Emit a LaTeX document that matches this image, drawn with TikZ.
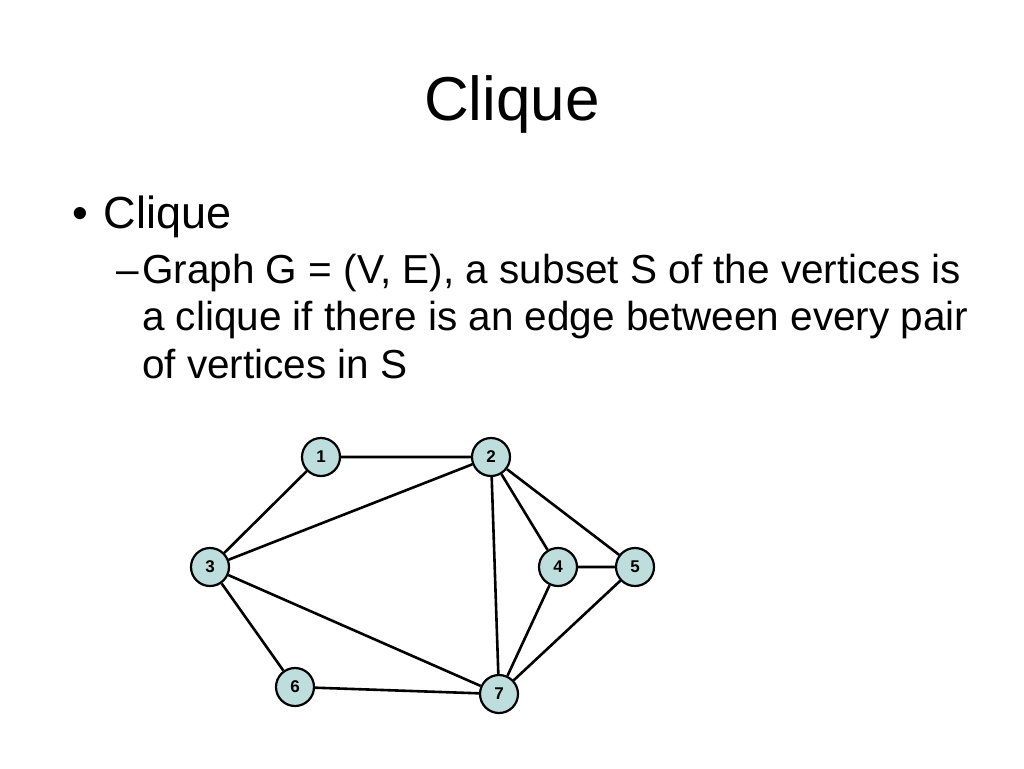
\documentclass[tikz,border=0pt]{standalone}
\usepackage{fontspec}
\setmainfont{Liberation Sans}
\begin{document}
\begin{tikzpicture}[x=1pt,y=-1pt,
  vtx/.style={circle,draw=black,line width=2.2pt,fill={rgb,255:red,190;green,222;blue,222},minimum size=38pt,inner sep=0pt,font=\fontsize{17}{17}\selectfont\bfseries},
  edge/.style={line width=2.6pt},
  sub/.style={anchor=base west,inner sep=0,font=\fontsize{40.5}{40.5}\selectfont}]
\useasboundingbox (0,0) rectangle (1024,768);
\node[anchor=base] (title) at (512,120) {\fontsize{62}{62}\selectfont Clique};
\node[anchor=base west,inner sep=0] (b1) at (72,228) {\fontsize{45}{45}\selectfont •\hspace{16pt}Clique};
\node[sub] (d) at (116,283) {–};
\node[sub] (l1) at (142,283) {Graph G = (V, E), a subset S of the vertices is};
\node[sub] (l2) at (142,330) {a clique if there is an edge between every pair};
\node[sub] (l3) at (142,378) {of vertices in S};
\node[vtx] (n1) at (321,457) {1};
\node[vtx] (n2) at (491,457) {2};
\node[vtx] (n3) at (210,567) {3};
\node[vtx] (n4) at (558,567) {4};
\node[vtx] (n5) at (635,567) {5};
\node[vtx] (n6) at (295,687) {6};
\node[vtx] (n7) at (499,694) {7};
\draw[edge] (n1)--(n2) (n1)--(n3) (n2)--(n3) (n2)--(n7) (n2)--(n4) (n2)--(n5)
  (n4)--(n5) (n4)--(n7) (n5)--(n7) (n3)--(n7) (n3)--(n6) (n6)--(n7);
\end{tikzpicture}
\end{document}
